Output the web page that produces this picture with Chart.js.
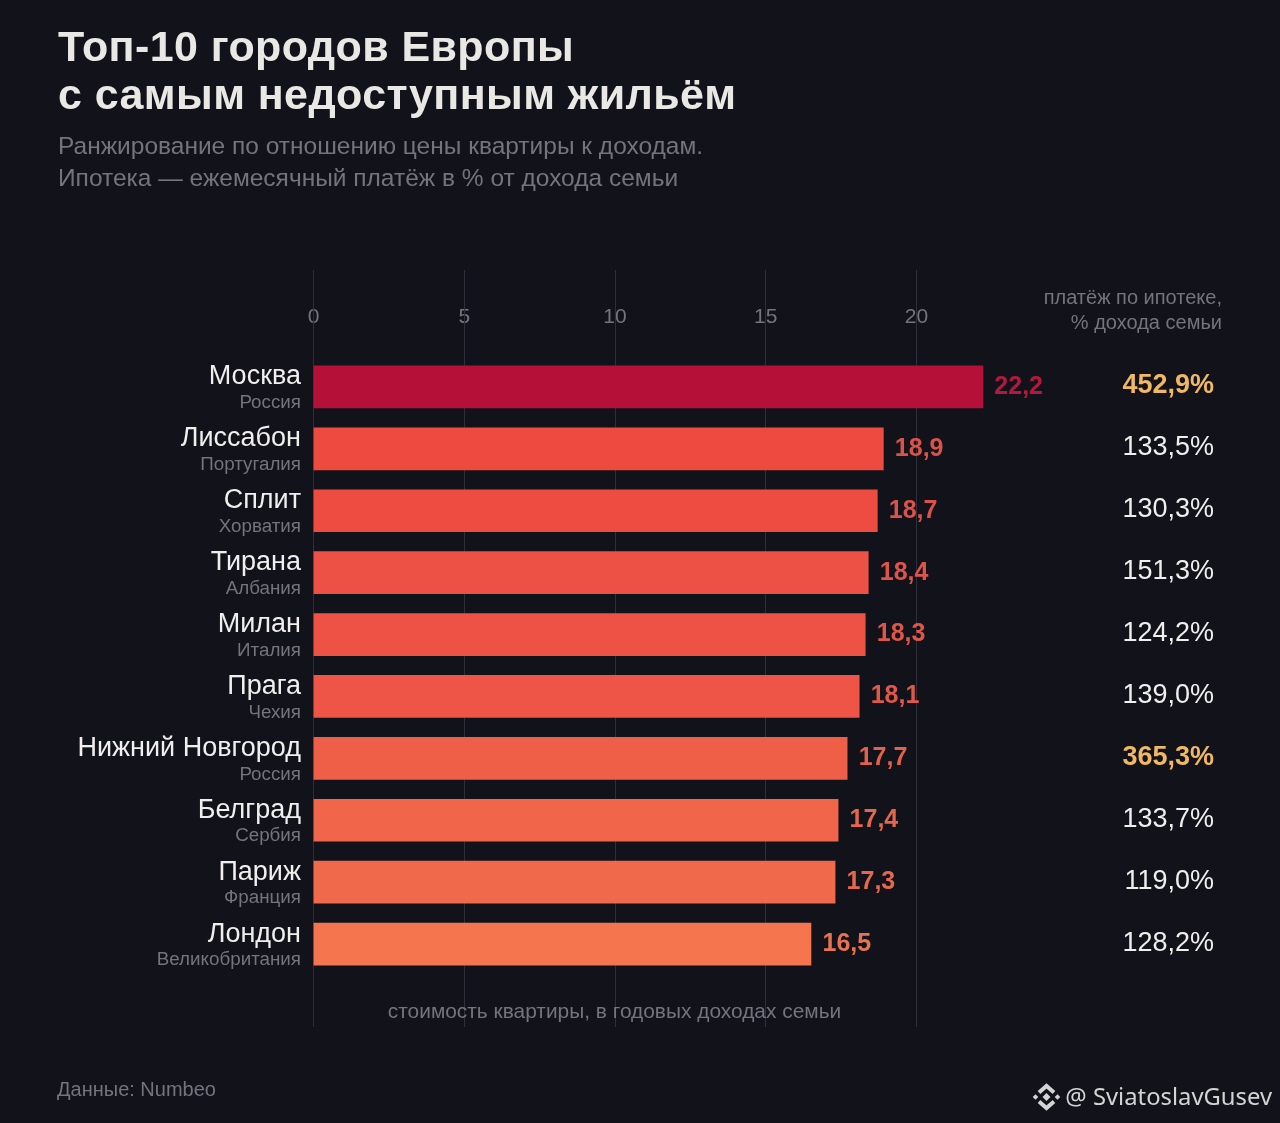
<!DOCTYPE html>
<html lang="ru">
<head>
<meta charset="utf-8">
<title>Топ-10 городов Европы</title>
<script src="https://cdn.jsdelivr.net/npm/chart.js@4"></script>
<style>
    html, body { margin: 0; background: #11121a; }
    canvas { display: block; }
</style>
</head>
<body>
<canvas id="cityChart" width="1280" height="1123"></canvas>
<script>
const cities = ["Москва", "Лиссабон", "Сплит", "Тирана", "Милан", "Прага", "Нижний Новгород", "Белград", "Париж", "Лондон"];
const countries = ["Россия", "Португалия", "Хорватия", "Албания", "Италия", "Чехия", "Россия", "Сербия", "Франция", "Великобритания"];
const priceToIncome = [22.2, 18.9, 18.7, 18.4, 18.3, 18.1, 17.7, 17.4, 17.3, 16.5];
const mortgageShare = [452.9, 133.5, 130.3, 151.3, 124.2, 139.0, 365.3, 133.7, 119.0, 128.2];
const barColors = ["#b51038", "#ee4a40", "#ee4c41", "#ed5044", "#ee5245", "#ee5546", "#ef5f48", "#f1664a", "#f1694b", "#f5754f"];
const valueColors = ["#b3193e", "#dc5148", "#dc5249", "#de5449", "#de5649", "#e05849", "#e2614a", "#e4674b", "#e4694c", "#e87350"];
const highlightColor = "#f0b862";

const gridColor = "#2e3039";
const mutedColor = "#74747d";
const lightColor = "#f0efec";
const sans = "'Liberation Sans', sans-serif";

function comma(v) {
    return v.toFixed(1).replace(".", ",");
}

function text(ctx, str, x, y, font, color, align, spacing) {
    ctx.font = font;
    ctx.fillStyle = color;
    ctx.textAlign = align;
    ctx.textBaseline = "middle";
    ctx.letterSpacing = spacing || "0px";
    ctx.fillText(str, x, y);
    ctx.letterSpacing = "0px";
}

function diamond(ctx, x, y, r) {
    ctx.beginPath();
    ctx.moveTo(x, y - r);
    ctx.lineTo(x + r, y);
    ctx.lineTo(x, y + r);
    ctx.lineTo(x - r, y);
    ctx.closePath();
    ctx.fill();
}

// small binance style mark next to the handle
function drawMark(ctx, cx, cy) {
    ctx.save();
    ctx.translate(cx, cy);
    ctx.fillStyle = "#d4d4d4";
    ctx.strokeStyle = "#d4d4d4";
    ctx.lineWidth = 4;
    diamond(ctx, 0, 0, 4);
    diamond(ctx, -11, 0, 2.8);
    diamond(ctx, 11, 0, 2.8);
    [-1, 1].forEach(function (s) {
        ctx.beginPath();
        ctx.moveTo(-7.5, s * 4.5);
        ctx.lineTo(0, s * 11);
        ctx.lineTo(7.5, s * 4.5);
        ctx.stroke();
    });
    ctx.restore();
}

const gridPlugin = {
    id: "gridPlugin",
    beforeDatasetsDraw(chart) {
        const ctx = chart.ctx;
        const x = chart.scales.x;
        ctx.save();
        ctx.strokeStyle = gridColor;
        ctx.lineWidth = 1;
        x.ticks.forEach(function (t) {
            const px = Math.floor(x.getPixelForValue(t.value)) + 0.5;
            ctx.beginPath();
            ctx.moveTo(px, 270);
            ctx.lineTo(px, 1027);
            ctx.stroke();
        });
        ctx.restore();
    }
};

const notesPlugin = {
    id: "notesPlugin",
    afterDatasetsDraw(chart) {
        const ctx = chart.ctx;
        const y = chart.scales.y;
        const bars = chart.getDatasetMeta(0).data;
        ctx.save();

        // header
        text(ctx, "Топ-10 городов Европы", 58, 49.5, "bold 43px " + sans, "#e9e8e4", "left", "0.4px");
        text(ctx, "с самым недоступным жильём", 58, 97.5, "bold 43px " + sans, "#e9e8e4", "left", "0.4px");
        text(ctx, "Ранжирование по отношению цены квартиры к доходам.", 58, 147, "24.5px " + sans, mutedColor, "left");
        text(ctx, "Ипотека — ежемесячный платёж в % от дохода семьи", 58, 179, "24.5px " + sans, mutedColor, "left");

        bars.forEach(function (bar, i) {
            text(ctx, comma(priceToIncome[i]), bar.x + 11.5, bar.y, "bold 25px " + sans, valueColors[i], "left");
            const hot = mortgageShare[i] > 300;
            text(ctx, comma(mortgageShare[i]) + "%", 1214, bar.y - 1, (hot ? "bold " : "") + "27px " + sans, hot ? highlightColor : lightColor, "right");
            text(ctx, countries[i], 301, y.getPixelForValue(i) + 16, "18.8px " + sans, mutedColor, "right");
        });

        text(ctx, "платёж по ипотеке,", 1222, 298, "20px " + sans, mutedColor, "right");
        text(ctx, "% дохода семьи", 1222, 323, "20px " + sans, mutedColor, "right");
        text(ctx, "стоимость квартиры, в годовых доходах семьи", 614.5, 1012, "20.9px " + sans, mutedColor, "center");
        text(ctx, "Данные: Numbeo", 57, 1090, "20px " + sans, mutedColor, "left");
        text(ctx, "@ SviatoslavGusev", 1272, 1098, "23.8px 'Noto Sans', sans-serif", "#d4d4d4", "right");
        drawMark(ctx, 1046.5, 1097);
        ctx.restore();
    }
};

new Chart("cityChart", {
    type: "bar",
    data: {
        labels: cities,
        datasets: [{
            data: priceToIncome,
            backgroundColor: barColors,
            barThickness: 42
        }]
    },
    plugins: [gridPlugin, notesPlugin],
    options: {
        indexAxis: "y",
        responsive: false,
        animation: false,
        devicePixelRatio: 1,
        layout: {
            padding: { left: 57, top: 24, right: 212.75, bottom: 148 }
        },
        plugins: {
            legend: { display: false },
            tooltip: { enabled: false }
        },
        scales: {
            x: {
                position: "top",
                min: 0,
                max: 25,
                grid: { display: false },
                border: { display: false },
                afterBuildTicks(axis) {
                    axis.ticks = axis.ticks.filter(function (t) { return t.value <= 20; });
                },
                afterFit(axis) {
                    axis.height = 332;
                },
                ticks: {
                    stepSize: 5,
                    color: mutedColor,
                    font: { family: sans, size: 21 },
                    padding: 18,
                    maxRotation: 0
                }
            },
            y: {
                grid: { display: false },
                border: { display: false },
                afterFit(axis) {
                    axis.width = 256.5;
                },
                ticks: {
                    color: lightColor,
                    font: { family: sans, size: 27 },
                    padding: 4.5,
                    labelOffset: -10,
                    autoSkip: false
                }
            }
        }
    }
});
</script>
</body>
</html>
